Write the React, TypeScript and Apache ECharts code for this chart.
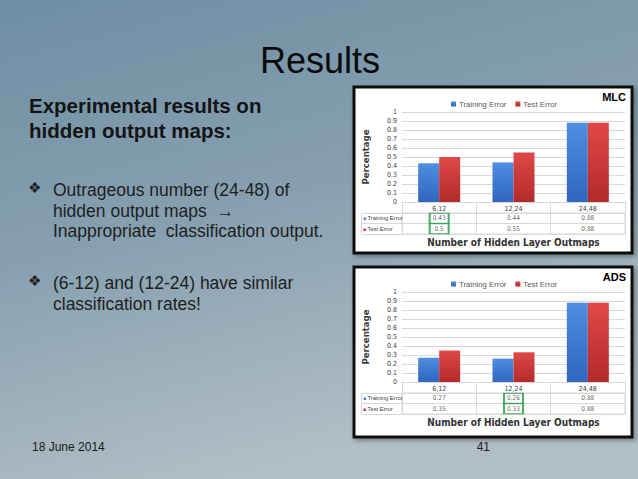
import React, { useEffect, useRef } from "react";
import * as echarts from "echarts";

const categories = ["6,12", "12,24", "24,48"];
const seriesNames = ["Training Error", "Test Error"];
const mlcTraining = [0.43, 0.44, 0.88];
const mlcTest = [0.5, 0.55, 0.88];
const adsTraining = [0.27, 0.26, 0.88];
const adsTest = [0.35, 0.33, 0.88];
const mlcHighlightColumn = 0;
const adsHighlightColumn = 1;

const slideTitle = "Results";
const headingLines = ["Experimental results on", "hidden output maps:"];
const bullet1Lines = ["Outrageous number (24-48) of", "hidden output maps  \u2192", "Inappropriate  classification output."];
const bullet2Lines = ["(6-12) and (12-24) have similar", "classification rates!"];
const footerDate = "18 June 2014";
const footerPage = "41";

const gridLine = "#d9d9d9";
const axisText = "#404040";
const chartFont = '"DejaVu Sans Condensed", "Liberation Sans", sans-serif';
const narrowFont = '"Liberation Sans", sans-serif';
const slideFont = '"Liberation Sans", Arial, sans-serif';

const blueGrad = new echarts.graphic.LinearGradient(0, 0, 0, 1, [
  { offset: 0, color: "#4f8ee0" },
  { offset: 1, color: "#2f66bf" },
]);
const redGrad = new echarts.graphic.LinearGradient(0, 0, 0, 1, [
  { offset: 0, color: "#e04848" },
  { offset: 1, color: "#b22a2a" },
]);

function buildOption() {
  const panels = [
    { name: "MLC", dy: 0, h: 166, training: mlcTraining, test: mlcTest, hl: mlcHighlightColumn },
    { name: "ADS", dy: 180, h: 170, training: adsTraining, test: adsTest, hl: adsHighlightColumn },
  ];
  const grid: any[] = [];
  const xAxis: any[] = [];
  const yAxis: any[] = [];
  const series: any[] = [];
  const legend: any[] = [];
  const graphic: any[] = [];

  panels.forEach((p, i) => {
    const dy = p.dy;
    graphic.push({
      type: "rect",
      z: -1,
      silent: true,
      shape: { x: 354, y: 87 + dy, width: 278, height: p.h },
      style: { fill: "#ffffff", stroke: "#111111", lineWidth: 3, shadowBlur: 4, shadowColor: "rgba(0,0,0,0.35)", shadowOffsetX: 2, shadowOffsetY: 2 },
    });
    graphic.push({
      type: "text",
      x: 626,
      y: 97 + dy,
      silent: true,
      style: { text: p.name, fill: "#000", font: "bold 11px " + slideFont, textAlign: "right", align: "right", textVerticalAlign: "middle", verticalAlign: "middle" },
    });

    grid.push({ left: 402, top: 112 + dy, width: 223, height: 90 });
    grid.push({ left: 402, top: 213 + dy, width: 223, height: 21, show: true, borderColor: gridLine, borderWidth: 1, backgroundColor: "transparent" });

    xAxis.push({
      type: "category",
      gridIndex: 2 * i,
      data: categories,
      axisLine: { lineStyle: { color: gridLine } },
      axisTick: { show: true, length: 11, lineStyle: { color: gridLine } },
      axisLabel: { fontSize: 7, color: axisText, margin: 3, fontFamily: chartFont },
      splitLine: { show: false },
    });
    xAxis.push({
      type: "category",
      gridIndex: 2 * i + 1,
      data: categories,
      axisLine: { show: false },
      axisTick: { show: false },
      axisLabel: { show: false },
      splitLine: { show: true, lineStyle: { color: gridLine } },
      name: "Number of Hidden Layer Outmaps",
      nameLocation: "middle",
      nameGap: 3,
      nameTextStyle: { fontSize: 10, fontWeight: "bold", color: "#333", fontFamily: chartFont },
    });

    yAxis.push({
      type: "value",
      gridIndex: 2 * i,
      min: 0,
      max: 1,
      interval: 0.1,
      axisLine: { show: false },
      axisTick: { show: false },
      axisLabel: { fontSize: 7, color: axisText, margin: 5, fontFamily: chartFont },
      splitLine: { lineStyle: { color: gridLine } },
      name: "Percentage",
      nameLocation: "middle",
      nameGap: 32,
      nameRotate: 90,
      nameTextStyle: { fontSize: 9.5, fontWeight: "bold", color: "#404040", fontFamily: chartFont },
    });
    yAxis.push({
      type: "category",
      gridIndex: 2 * i + 1,
      data: seriesNames,
      inverse: true,
      axisLine: { show: true, lineStyle: { color: gridLine } },
      axisTick: { show: true, length: 41, lineStyle: { color: gridLine } },
      axisLabel: {
        align: "left",
        margin: 39,
        fontSize: 5.8,
        color: axisText,
        fontFamily: narrowFont,
        formatter: (v: string, idx: number) => `{k${idx}|\u25A0} ${v}`,
        rich: {
          k0: { color: "#3f7fd4", fontSize: 5 },
          k1: { color: "#d03838", fontSize: 5 },
        },
      },
      splitLine: { show: true, lineStyle: { color: gridLine } },
    });
    yAxis.push({
      type: "category",
      gridIndex: 2 * i + 1,
      data: seriesNames,
      inverse: true,
      position: "left",
      offset: 41,
      axisLine: { show: true, lineStyle: { color: gridLine } },
      axisTick: { show: false },
      axisLabel: { show: false },
      splitLine: { show: false },
    });

    series.push({
      type: "bar",
      name: seriesNames[0],
      xAxisIndex: 2 * i,
      yAxisIndex: 3 * i,
      data: p.training,
      barWidth: 21,
      barGap: "0%",
      itemStyle: { color: blueGrad },
      emphasis: { disabled: true },
    });
    series.push({
      type: "bar",
      name: seriesNames[1],
      xAxisIndex: 2 * i,
      yAxisIndex: 3 * i,
      data: p.test,
      barWidth: 21,
      barGap: "0%",
      itemStyle: { color: redGrad },
      emphasis: { disabled: true },
    });

    const rows = [p.training, p.test];
    const cells: any[] = [];
    rows.forEach((row, r) => {
      row.forEach((v, c) => {
        const hl = c === p.hl;
        cells.push({
          value: [c, r, v],
          itemStyle: hl
            ? { color: "rgba(0,0,0,0)", borderColor: "#1f9a45", borderWidth: 1.5 }
            : { color: "rgba(0,0,0,0)", borderWidth: 0 },
        });
      });
    });
    series.push({
      type: "scatter",
      name: p.name + " table",
      xAxisIndex: 2 * i + 1,
      yAxisIndex: 3 * i + 1,
      symbol: "rect",
      symbolSize: [19, 10],
      silent: true,
      z: 5,
      data: cells,
      label: {
        show: true,
        position: "inside",
        formatter: (pp: any) => String(pp.value[2]),
        fontSize: 6.5,
        color: axisText,
        fontFamily: chartFont,
      },
      emphasis: { disabled: true },
    });

    legend.push({
      data: seriesNames,
      top: 95 + dy,
      left: 446,
      icon: "rect",
      itemWidth: 5,
      itemHeight: 5,
      itemGap: 9,
      selectedMode: false,
      textStyle: { fontSize: 7.8, color: "#595959", fontFamily: narrowFont, padding: [0, 0, 0, -2] },
    });
  });

  const txt = (text: string, x: number, y: number, font: string, align = "left", fill = "#141414") => ({
    type: "text",
    x,
    y,
    silent: true,
    style: { text, fill, font, textAlign: align, align, textVerticalAlign: "middle", verticalAlign: "middle" },
  });

  graphic.push(txt(slideTitle, 320, 60, "36px " + slideFont, "center", "#0a0a0a"));
  headingLines.forEach((l, k) => graphic.push(txt(l, 29, 105 + k * 25, "bold 20.5px " + slideFont)));
  const b1y = [190, 211, 231];
  bullet1Lines.forEach((l, k) => graphic.push(txt(l, 53, b1y[k], "17.5px " + slideFont, "left", "#1e1e1e")));
  const b2y = [283, 304];
  bullet2Lines.forEach((l, k) => graphic.push(txt(l, 53, b2y[k], "17.5px " + slideFont, "left", "#1e1e1e")));
  graphic.push(txt("\u2756", 28, 188, "15px \"DejaVu Sans\"", "left", "#1e1e1e"));
  graphic.push(txt("\u2756", 28, 281, "15px \"DejaVu Sans\"", "left", "#1e1e1e"));
  graphic.push(txt(footerDate, 32, 447, "12px " + slideFont, "left", "#1a1a1a"));
  graphic.push(txt(footerPage, 490, 447, "12px " + slideFont, "right", "#1a1a1a"));

  return {
    animation: false,
    backgroundColor: new echarts.graphic.LinearGradient(0, 0, 0.35, 1, [
      { offset: 0, color: "#6e8ea3" },
      { offset: 0.5, color: "#87a0b0" },
      { offset: 1, color: "#b1bec5" },
    ]),
    grid,
    xAxis,
    yAxis,
    series,
    legend,
    graphic,
  };
}

export default function App() {
  const ref = useRef<HTMLDivElement>(null);
  useEffect(() => {
    if (!ref.current) return;
    const chart = echarts.init(ref.current, null, { renderer: "svg" });
    chart.setOption(buildOption() as any);
    return () => chart.dispose();
  }, []);
  return <div ref={ref} style={{ position: "fixed", left: 0, top: 0, width: 638, height: 479 }} />;
}
